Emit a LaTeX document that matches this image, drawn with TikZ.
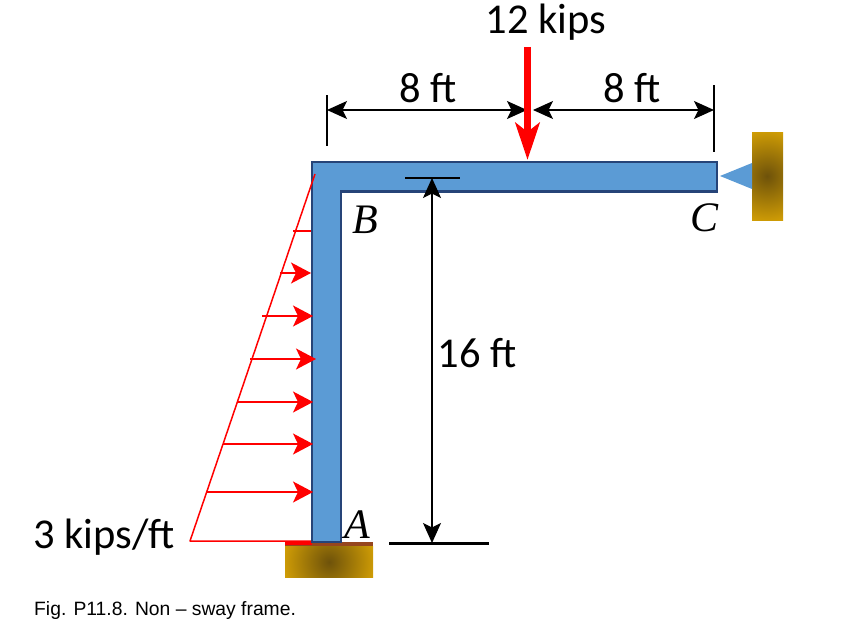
\documentclass[tikz,border=0pt]{standalone}
\usepackage{fontspec}
\setmainfont{Carlito}
\newfontfamily\capfont{Liberation Sans}
\newfontfamily\letterfont{Liberation Serif}
\usetikzlibrary{arrows.meta}
\definecolor{framefill}{RGB}{91,155,213}
\definecolor{frameedge}{RGB}{38,68,120}
\definecolor{suppgold}{RGB}{212,160,5}
\definecolor{suppdark}{RGB}{110,82,10}
\definecolor{suppstrip}{RGB}{150,70,30}
\tikzset{
	dimline/.style={line width=1.2pt,{Stealth[length=20pt,width=18pt,inset=4.5pt]}-{Stealth[length=20pt,width=18pt,inset=4.5pt]}},
	tickline/.style={line width=2pt},
	loadline/.style={red,line width=1.5pt},
	loadarrow/.style={loadline,-{Stealth[length=20pt,width=21pt,inset=5pt]}},
	bigtext/.style={font=\fontsize{42.5}{42.5}\selectfont,inner sep=0pt},
	lettertext/.style={font=\fontsize{42}{42}\letterfont\itshape,inner sep=0pt},
	support/.style={inner color=suppdark,outer color=suppgold},
}
\begin{document}
\begin{tikzpicture}[x=1pt,y=-1pt]
	\useasboundingbox (0,0) rectangle (856,626);
	%SUPPORTS
	\begin{scope}
		\clip (285,546) rectangle (373,577);
		\fill[suppgold] (285,546) rectangle (373,577);
		\shade[support] (329,562) circle (48);
	\end{scope}
	\fill[suppstrip] (285,542) rectangle (373,546);
	\fill[red] (285,542) rectangle (312,545);
	\begin{scope}
		\clip (752,132) rectangle (783,220);
		\fill[suppgold] (752,132) rectangle (783,220);
		\shade[support] (767,176) circle (48);
	\end{scope}
	\draw[fill=framefill,draw=none] (720,176)--(752,163)--(752,189)--cycle;
	%FRAME
	\draw[fill=framefill,draw=frameedge,line width=2.6pt] (312,542)--(312,162)--(717,162)--(717,191.5)--(341,191.5)--(341,542)--cycle;
	%DIMENSIONS
	\coordinate (tickL) at (327,110);
	\coordinate (load) at (527,110);
	\coordinate (loadR) at (533,110);
	\coordinate (tickR) at (714,110);
	\coordinate (dimtop) at (432,178);
	\coordinate (dimbot) at (432,543);
	\draw[tickline] (327,95)--(327,146);
	\draw[tickline] (714,85)--(714,152);
	\draw[tickline,line width=2.5pt] (405,178)--(460,178);
	\draw[tickline,line width=2.5pt] (389,543.5)--(489,543.5);
	\draw[dimline] (tickL)--(load);
	\draw[dimline] (loadR)--(tickR);
	\draw[dimline] (dimtop)--(dimbot);
	%LOADS
	\draw[red,line width=7pt,-{Stealth[length=37pt,width=24pt,inset=9pt]}] (527.5,47)--(527.5,160);
	\draw[loadline,line join=round] (315,174)--(190,541)--(311,541);
	\draw[loadline] (293,231)--(311,231);
	\foreach \y/\xa/\xb in {273/280/311,316/262/313,359/250/316,402/237/313,444/223/313,492/206/313}
		\draw[loadarrow] (\xa,\y)--(\xb,\y);
	%LABELS
	\node[bigtext] (pointload) at (546,22) {12 kips};
	\node[bigtext] (spanAB) at (428,88) {8 ft};
	\node[bigtext] (spanBC) at (632,88) {8 ft};
	\node[bigtext] (height) at (477,353) {16 ft};
	\node[bigtext] (intensity) at (104,537) {3 kips/ft};
	\node[lettertext] (B) at (365,220) {B};
	\node[lettertext] (A) at (357,525) {A};
	\node[lettertext] (C) at (704,218) {C};
	\node[font=\fontsize{19.3}{19.3}\capfont,anchor=west,inner sep=0pt] (caption) at (34,611) {Fig. P11.8. Non – sway frame.};
\end{tikzpicture}
\end{document}
